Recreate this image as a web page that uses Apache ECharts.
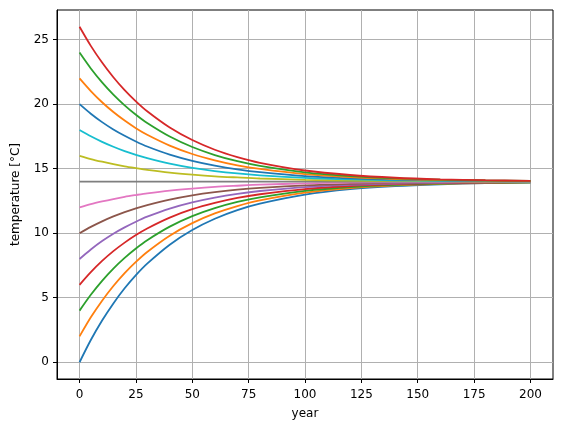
<!DOCTYPE html>
<html>
<head>
<meta charset="utf-8">
<script src="https://cdn.jsdelivr.net/npm/echarts@6/dist/echarts.min.js"></script>
<style>
  html, body { margin: 0; padding: 0; background: #fff; }
  #chart { width: 563px; height: 432px; }
</style>
</head>
<body>
<div id="chart"></div>
<script>
// sample years read along the x axis
var years = [0, 5, 10, 15, 20, 25, 30, 40, 50, 60, 70, 80, 100, 120, 140, 160, 180, 200];

// one curve per starting temperature (0, 2, ... 26 °C)
var t00 = [0, 1.72, 3.23, 4.56, 5.73, 6.75, 7.64, 9.11, 10.25, 11.12, 11.79, 12.29, 12.99, 13.41, 13.65, 13.79, 13.88, 13.93];
var t02 = [2, 3.48, 4.77, 5.91, 6.91, 7.78, 8.55, 9.81, 10.78, 11.53, 12.10, 12.54, 13.14, 13.49, 13.70, 13.82, 13.89, 13.94];
var t04 = [4, 5.23, 6.31, 7.26, 8.09, 8.82, 9.46, 10.51, 11.32, 11.94, 12.42, 12.78, 13.28, 13.58, 13.75, 13.85, 13.91, 13.95];
var t06 = [6, 6.98, 7.85, 8.61, 9.27, 9.86, 10.37, 11.21, 11.86, 12.35, 12.74, 13.02, 13.42, 13.66, 13.80, 13.88, 13.93, 13.96];
var t08 = [8, 8.74, 9.39, 9.96, 10.45, 10.89, 11.28, 11.91, 12.39, 12.76, 13.05, 13.27, 13.57, 13.75, 13.85, 13.91, 13.95, 13.97];
var t10 = [10, 10.49, 10.92, 11.30, 11.64, 11.93, 12.18, 12.60, 12.93, 13.18, 13.37, 13.51, 13.71, 13.83, 13.90, 13.94, 13.97, 13.98];
var t12 = [12, 12.25, 12.46, 12.65, 12.82, 12.96, 13.09, 13.30, 13.46, 13.59, 13.68, 13.76, 13.86, 13.92, 13.95, 13.97, 13.98, 13.99];
var t14 = [14, 14, 14, 14, 14, 14, 14, 14, 14, 14, 14, 14, 14, 14, 14, 14, 14, 14];
var t16 = [16, 15.75, 15.54, 15.35, 15.18, 15.04, 14.91, 14.70, 14.54, 14.41, 14.32, 14.24, 14.14, 14.08, 14.05, 14.03, 14.02, 14.01];
var t18 = [18, 17.51, 17.08, 16.70, 16.36, 16.07, 15.82, 15.40, 15.07, 14.82, 14.63, 14.49, 14.29, 14.17, 14.10, 14.06, 14.03, 14.02];
var t20 = [20, 19.26, 18.61, 18.04, 17.55, 17.11, 16.72, 16.09, 15.61, 15.24, 14.95, 14.73, 14.43, 14.26, 14.15, 14.09, 14.05, 14.03];
var t22 = [22, 21.02, 20.15, 19.39, 18.73, 18.14, 17.63, 16.79, 16.14, 15.65, 15.26, 14.98, 14.58, 14.34, 14.20, 14.12, 14.07, 14.04];
var t24 = [24, 22.77, 21.69, 20.74, 19.91, 19.18, 18.54, 17.49, 16.68, 16.06, 15.58, 15.22, 14.72, 14.43, 14.25, 14.15, 14.09, 14.05];
var t26 = [26, 24.52, 23.23, 22.09, 21.09, 20.22, 19.45, 18.19, 17.22, 16.47, 15.90, 15.46, 14.86, 14.51, 14.30, 14.18, 14.11, 14.06];

var curves = [t00, t02, t04, t06, t08, t10, t12, t14, t16, t18, t20, t22, t24, t26];

// tick labels
var xTicks = [0, 25, 50, 75, 100, 125, 150, 175, 200];
var yTicks = [0, 5, 10, 15, 20, 25];

// matplotlib default colour cycle
var colors = ['#1f77b4', '#ff7f0e', '#2ca02c', '#d62728', '#9467bd', '#8c564b', '#e377c2',
              '#7f7f7f', '#bcbd22', '#17becf'];

var chartDom = document.getElementById('chart');
var myChart = echarts.init(chartDom);

var font = 'DejaVu Sans';

var series = curves.map(function (vals, i) {
    return {
        type: 'line',
        name: 'T0=' + vals[0],
        smooth: 0.3,
        showSymbol: false,
        lineStyle: { width: 1.8, color: colors[i % colors.length] },
        data: years.map(function (y, j) { return [y, vals[j]]; })
    };
});

var option = {
    animation: false,
    grid: {
        left: 57,
        right: 10,
        top: 10,
        bottom: 53,
        show: true,
        borderColor: '#000',
        borderWidth: 1
    },
    xAxis: {
        type: 'value',
        min: -10,
        max: 210,
        name: 'year',
        nameLocation: 'middle',
        nameGap: 29,
        nameTextStyle: { fontFamily: font, fontSize: 12, color: '#000' },
        axisLine: { onZero: false, lineStyle: { color: '#000', width: 1 } },
        axisTick: { show: true, length: 4, lineStyle: { color: '#000' }, customValues: xTicks },
        axisLabel: { fontFamily: font, fontSize: 12, color: '#000', margin: 10, customValues: xTicks },
        splitLine: { show: true, lineStyle: { color: '#b0b0b0', width: 1 } }
    },
    yAxis: {
        type: 'value',
        min: -1.3,
        max: 27.3,
        name: 'temperature [°C]',
        nameLocation: 'middle',
        nameGap: 35,
        nameRotate: 90,
        nameTextStyle: { fontFamily: font, fontSize: 12, color: '#000' },
        axisLine: { show: true, onZero: false, lineStyle: { color: '#000', width: 1 } },
        axisTick: { show: true, length: 4, lineStyle: { color: '#000' }, customValues: yTicks },
        axisLabel: { fontFamily: font, fontSize: 12, color: '#000', margin: 8, customValues: yTicks },
        splitLine: { show: true, lineStyle: { color: '#b0b0b0', width: 1 } }
    },
    series: series
};

option && myChart.setOption(option);
</script>
</body>
</html>
